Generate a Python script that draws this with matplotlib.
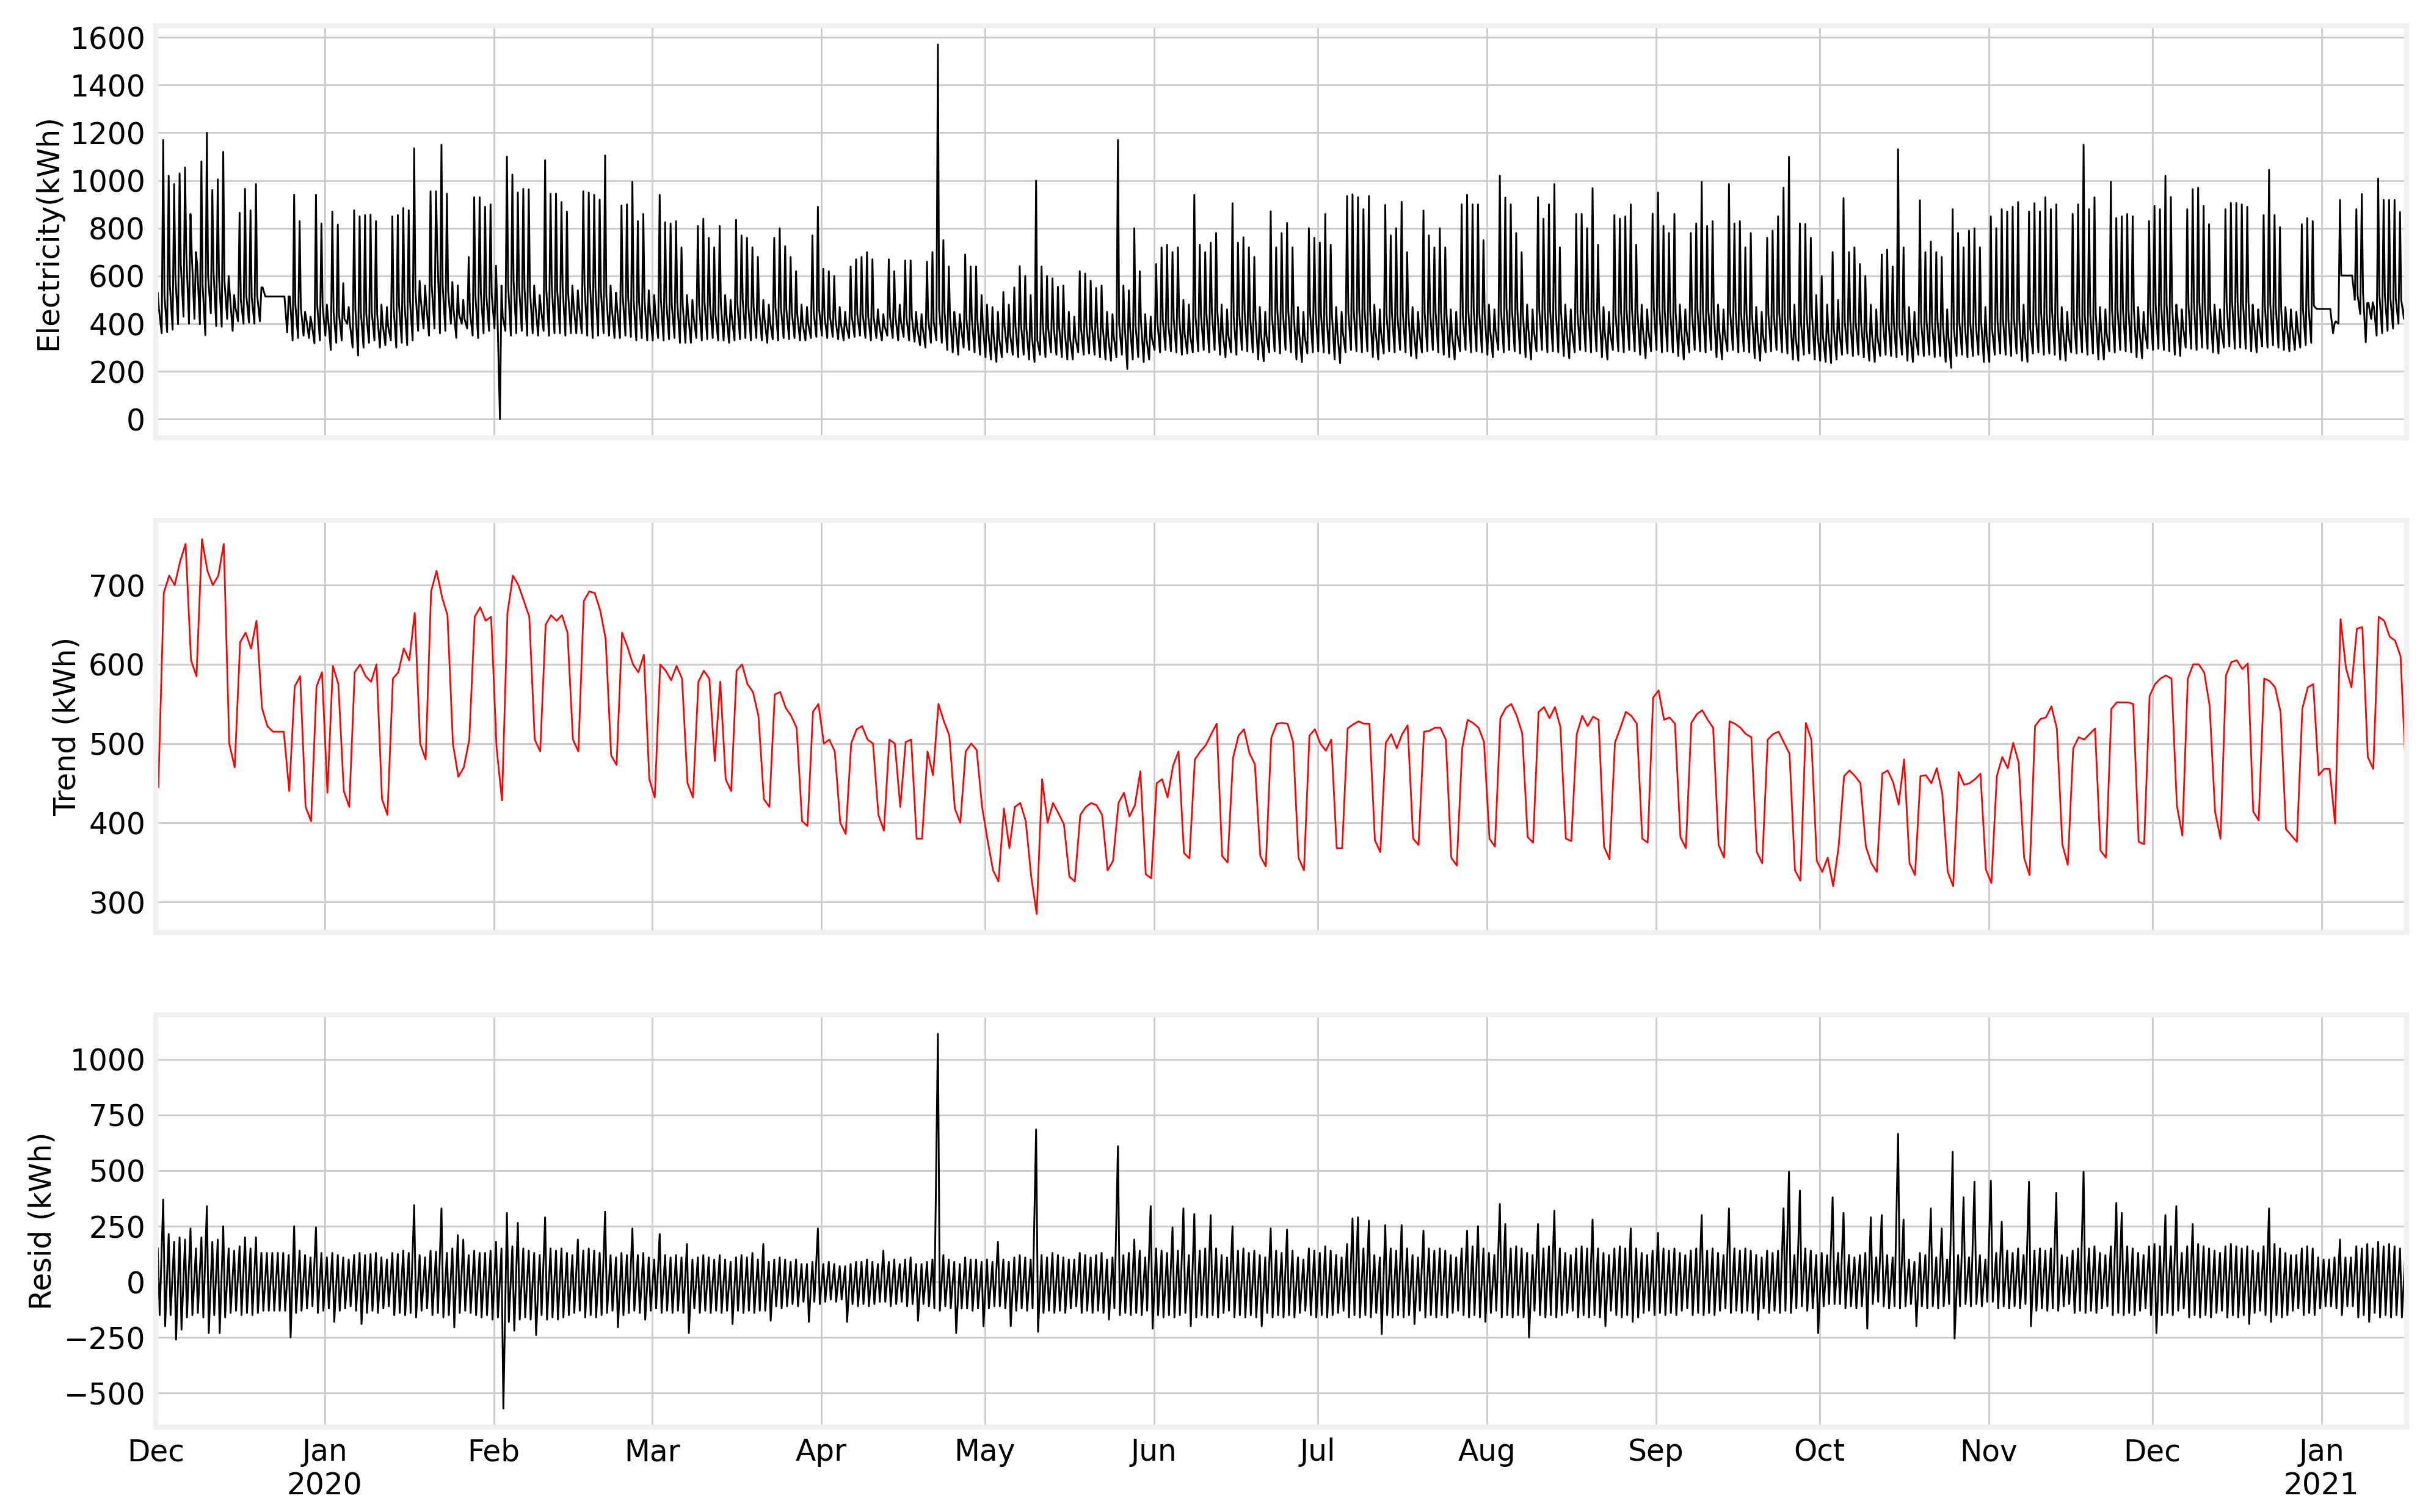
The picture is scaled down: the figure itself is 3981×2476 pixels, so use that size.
import numpy as np
import matplotlib
matplotlib.use("Agg")
import matplotlib.pyplot as plt
import matplotlib.dates as mdates
from matplotlib.ticker import MultipleLocator, FuncFormatter

# one value per day, 2019-12-01 (Sun) .. 2021-01-16 (Sat); rows are Mon..Sun weeks
trend_kwh = [445,
    690, 712, 700, 730, 752, 605, 585,
    758, 718, 700, 712, 752, 500, 470,
    628, 640, 620, 655, 545, 522, 515,
    515, 515, 440, 572, 585, 420, 402,
    572, 590, 438, 598, 575, 440, 420,
    590, 600, 585, 578, 600, 430, 410,
    582, 590, 620, 605, 665, 500, 480,
    692, 718, 685, 662, 500, 458, 470,
    505, 660, 672, 655, 660, 495, 428,
    665, 712, 700, 680, 660, 505, 490,
    650, 662, 655, 662, 640, 505, 490,
    680, 692, 690, 668, 632, 485, 473,
    640, 622, 600, 590, 612, 455, 432,
    600, 592, 580, 598, 582, 450, 432,
    578, 592, 582, 478, 578, 455, 440,
    592, 600, 575, 565, 535, 430, 420,
    562, 565, 545, 535, 520, 402, 396,
    540, 550, 500, 505, 490, 400, 386,
    500, 518, 522, 505, 500, 410, 390,
    505, 500, 420, 502, 505, 380, 380,
    490, 460, 550, 528, 510, 418, 400,
    490, 500, 492, 420, 378, 340, 326,
    418, 368, 420, 425, 402, 332, 285,
    455, 400, 425, 412, 398, 332, 326,
    410, 420, 425, 422, 410, 340, 352,
    425, 438, 408, 422, 465, 335, 330,
    450, 455, 432, 472, 490, 362, 355,
    480, 490, 498, 512, 525, 358, 350,
    482, 510, 518, 488, 474, 358, 345,
    507, 525, 526, 525, 502, 356, 340,
    510, 518, 500, 491, 505, 368, 368,
    519, 524, 528, 525, 525, 378, 363,
    501, 512, 494, 512, 523, 380, 372,
    515, 516, 520, 520, 505, 356, 346,
    494, 530, 526, 520, 502, 380, 370,
    532, 545, 550, 535, 513, 382, 375,
    540, 546, 532, 546, 521, 380, 377,
    512, 535, 522, 534, 530, 370, 354,
    501, 520, 540, 535, 525, 380, 375,
    558, 567, 530, 533, 525, 382, 368,
    526, 537, 542, 530, 520, 372, 356,
    528, 525, 520, 512, 508, 363, 349,
    505, 512, 515, 501, 487, 340, 327,
    526, 505, 352, 338, 356, 320, 370,
    459, 466, 459, 450, 370, 349, 338,
    462, 466, 451, 423, 480, 349, 334,
    459, 460, 450, 469, 437, 338, 320,
    464, 448, 450, 455, 462, 341, 324,
    459, 483, 469, 501, 476, 356, 334,
    522, 531, 533, 547, 519, 373, 347,
    494, 508, 505, 512, 519, 365, 356,
    544, 552, 552, 552, 550, 376, 373,
    560, 575, 582, 586, 582, 422, 384,
    582, 600, 600, 590, 548, 414, 380,
    586, 603, 605, 594, 601, 414, 403,
    582, 579, 571, 540, 392, 384, 376,
    544, 571, 575, 460, 468, 468, 399,
    657, 595, 571, 645, 647, 483, 468,
    660, 655, 635, 630, 610, 460]

elec_peak = [530,
    1170, 1020, 985, 1030, 1055, 860, 700,
    1080, 1200, 960, 1005, 1120, 600, 520,
    865, 965, 875, 985, 552, 514, 514,
    514, 514, 514, 940, 830, 450, 430,
    940, 820, 480, 870, 815, 570, 470,
    875, 850, 855, 857, 830, 480, 470,
    850, 855, 885, 875, 1135, 580, 560,
    955, 955, 1150, 945, 575, 560, 500,
    680, 930, 930, 890, 900, 643, 560,
    1100, 1025, 950, 965, 963, 560, 520,
    1085, 945, 945, 910, 870, 560, 540,
    955, 950, 940, 920, 1105, 560, 530,
    895, 900, 995, 830, 860, 540, 520,
    940, 825, 820, 830, 720, 520, 500,
    810, 840, 760, 720, 810, 520, 500,
    835, 770, 760, 720, 680, 500, 480,
    760, 800, 725, 680, 620, 480, 470,
    770, 890, 630, 620, 600, 470, 450,
    640, 670, 680, 700, 670, 460, 440,
    670, 620, 480, 665, 665, 450, 440,
    660, 700, 1570, 750, 640, 450, 440,
    690, 640, 640, 520, 480, 470, 450,
    533, 480, 552, 641, 600, 520, 1000,
    640, 600, 590, 555, 560, 450, 430,
    620, 610, 580, 550, 560, 450, 440,
    1170, 560, 540, 800, 620, 440, 430,
    650, 720, 730, 700, 720, 500, 480,
    940, 730, 700, 740, 780, 480, 460,
    905, 740, 762, 720, 680, 470, 450,
    871, 720, 780, 822, 720, 470, 450,
    800, 760, 740, 860, 730, 470, 450,
    935, 942, 930, 880, 935, 480, 460,
    898, 770, 800, 911, 700, 470, 450,
    874, 770, 720, 800, 720, 460, 450,
    900, 940, 900, 900, 750, 480, 460,
    1020, 929, 900, 780, 700, 480, 460,
    930, 840, 900, 985, 720, 480, 460,
    860, 860, 800, 968, 730, 470, 450,
    855, 840, 850, 900, 730, 480, 460,
    861, 950, 810, 780, 860, 480, 460,
    780, 820, 995, 810, 830, 480, 460,
    985, 820, 830, 720, 780, 470, 450,
    760, 790, 850, 970, 1099, 480, 820,
    818, 760, 520, 600, 480, 700, 500,
    926, 700, 720, 650, 600, 480, 460,
    690, 710, 640, 1131, 720, 470, 450,
    917, 700, 744, 700, 680, 460, 880,
    780, 720, 790, 800, 720, 470, 850,
    800, 880, 870, 890, 910, 480, 870,
    905, 870, 930, 880, 900, 470, 450,
    860, 900, 1150, 880, 930, 470, 460,
    995, 843, 850, 860, 850, 470, 450,
    830, 893, 880, 1020, 931, 480, 460,
    880, 964, 970, 893, 817, 480, 460,
    880, 906, 906, 900, 890, 480, 460,
    855, 1045, 855, 805, 470, 460, 450,
    817, 843, 830, 462, 462, 462, 400,
    919, 602, 602, 880, 944, 487, 490,
    1008, 919, 919, 919, 868, 520]

elec_low = [330,
    360, 365, 375, 398, 430, 400, 420,
    398, 352, 444, 390, 387, 420, 370,
    410, 400, 405, 400, 410, 514, 514,
    514, 514, 364, 330, 340, 350, 340,
    318, 330, 350, 290, 320, 330, 400,
    300, 267, 300, 320, 330, 300, 310,
    330, 300, 320, 310, 330, 370, 380,
    350, 380, 360, 370, 400, 341, 400,
    380, 350, 340, 360, 370, 380, 0,
    370, 350, 360, 370, 350, 360, 350,
    370, 350, 360, 360, 350, 360, 360,
    360, 350, 340, 350, 360, 350, 340,
    340, 350, 345, 330, 340, 330, 330,
    340, 330, 335, 340, 320, 320, 320,
    340, 330, 335, 340, 330, 330, 320,
    330, 335, 340, 330, 340, 330, 320,
    335, 330, 340, 335, 340, 330, 330,
    340, 345, 350, 340, 345, 335, 330,
    340, 345, 350, 340, 330, 340, 330,
    350, 340, 330, 345, 330, 325, 310,
    300, 320, 330, 320, 290, 280, 270,
    300, 290, 280, 270, 260, 250, 240,
    260, 280, 270, 260, 270, 250, 240,
    270, 260, 280, 270, 260, 250, 250,
    280, 270, 275, 270, 260, 250, 245,
    260, 270, 210, 250, 260, 240, 250,
    290, 280, 290, 285, 280, 270, 275,
    280, 285, 290, 280, 290, 270, 260,
    280, 270, 290, 285, 280, 250, 243,
    280, 285, 275, 290, 280, 250, 240,
    275, 280, 285, 280, 275, 250, 235,
    280, 290, 285, 280, 285, 260, 250,
    275, 285, 280, 290, 280, 265, 255,
    280, 285, 290, 280, 270, 260, 250,
    285, 290, 280, 285, 280, 270, 260,
    290, 280, 290, 285, 275, 260, 250,
    285, 290, 280, 285, 280, 265, 255,
    280, 290, 285, 280, 285, 260, 250,
    290, 285, 280, 290, 285, 270, 255,
    285, 290, 280, 285, 280, 265, 250,
    280, 290, 285, 280, 290, 260, 250,
    285, 290, 280, 285, 280, 255, 245,
    280, 285, 290, 280, 275, 250, 245,
    270, 275, 250, 245, 240, 235, 250,
    270, 275, 265, 270, 260, 245, 240,
    265, 270, 265, 260, 270, 245, 240,
    270, 265, 270, 260, 265, 240, 215,
    265, 270, 260, 265, 270, 240, 240,
    270, 275, 270, 265, 275, 245, 240,
    275, 280, 270, 275, 270, 250, 245,
    280, 275, 280, 270, 275, 250, 250,
    285, 280, 290, 285, 280, 260, 255,
    297, 290, 295, 290, 285, 270, 265,
    300, 295, 290, 300, 295, 280, 275,
    300, 305, 295, 300, 295, 285, 280,
    305, 300, 310, 300, 290, 285, 290,
    300, 310, 320, 462, 462, 462, 360,
    400, 602, 602, 500, 440, 322, 420,
    350, 360, 370, 380, 400, 420]

elec_base = [460,
    520, 560, 600, 650, 700, 700, 650,
    560, 600, 620, 600, 580, 520, 470,
    500, 520, 510, 520, 552, 514, 514,
    514, 514, 514, 480, 470, 420, 400,
    480, 470, 420, 450, 440, 420, 400,
    460, 450, 440, 450, 440, 400, 390,
    470, 480, 490, 500, 540, 500, 480,
    560, 720, 560, 540, 460, 440, 420,
    450, 520, 530, 520, 520, 480, 430,
    560, 580, 560, 550, 540, 480, 470,
    540, 560, 540, 550, 530, 480, 470,
    560, 570, 550, 540, 520, 470, 460,
    520, 510, 500, 490, 500, 450, 440,
    500, 490, 480, 490, 480, 440, 430,
    480, 490, 480, 440, 480, 440, 430,
    490, 500, 480, 470, 460, 420, 410,
    470, 470, 460, 450, 440, 400, 400,
    450, 460, 430, 430, 420, 400, 390,
    430, 440, 440, 430, 430, 400, 390,
    430, 430, 410, 430, 430, 380, 380,
    420, 410, 460, 450, 430, 400, 390,
    420, 420, 420, 400, 370, 350, 340,
    390, 360, 390, 400, 380, 350, 330,
    400, 380, 390, 385, 375, 340, 340,
    385, 390, 395, 390, 385, 345, 350,
    400, 400, 385, 395, 410, 340, 340,
    410, 415, 400, 420, 430, 360, 355,
    430, 435, 440, 450, 455, 360, 355,
    430, 445, 450, 430, 420, 360, 350,
    440, 455, 455, 455, 440, 360, 350,
    445, 450, 440, 435, 440, 365, 365,
    450, 455, 455, 455, 455, 375, 365,
    440, 445, 435, 445, 450, 375, 370,
    445, 450, 450, 450, 440, 360, 355,
    435, 455, 455, 450, 440, 375, 370,
    455, 465, 465, 455, 445, 380, 375,
    460, 465, 455, 465, 450, 380, 375,
    445, 460, 450, 460, 455, 370, 360,
    440, 450, 460, 460, 455, 380, 375,
    470, 475, 455, 455, 450, 380, 370,
    450, 460, 460, 455, 450, 375, 360,
    450, 450, 445, 440, 440, 365, 355,
    440, 440, 445, 435, 425, 345, 400,
    450, 440, 360, 350, 360, 380, 370,
    410, 415, 410, 405, 370, 355, 345,
    410, 415, 405, 390, 420, 355, 345,
    410, 410, 405, 415, 395, 345, 380,
    410, 400, 405, 405, 410, 345, 380,
    410, 420, 415, 430, 415, 360, 380,
    440, 445, 445, 455, 440, 375, 355,
    425, 435, 435, 440, 445, 370, 360,
    455, 460, 460, 460, 460, 380, 375,
    465, 475, 480, 480, 480, 420, 390,
    480, 490, 490, 485, 460, 410, 385,
    485, 495, 495, 490, 495, 410, 400,
    480, 480, 475, 460, 400, 390, 385,
    460, 475, 475, 462, 462, 462, 410,
    602, 602, 602, 520, 530, 487, 470,
    520, 520, 510, 505, 500, 470]

resid_high = [150,
    370, 215, 180, 200, 190, 240, 150,
    200, 340, 180, 190, 250, 150, 140,
    160, 200, 150, 200, 130, 130, 130,
    130, 130, 120, 250, 140, 120, 110,
    245, 130, 110, 130, 120, 110, 100,
    120, 130, 120, 125, 130, 110, 100,
    130, 125, 140, 130, 345, 120, 110,
    140, 135, 330, 130, 150, 210, 190,
    120, 140, 130, 130, 140, 180, 150,
    310, 160, 265, 150, 140, 130, 120,
    290, 150, 140, 150, 130, 120, 190,
    140, 150, 140, 130, 315, 120, 110,
    130, 120, 240, 120, 130, 110, 100,
    215, 120, 110, 120, 110, 170, 100,
    110, 120, 110, 100, 120, 100, 90,
    110, 120, 110, 130, 100, 170, 90,
    100, 110, 100, 90, 100, 80, 80,
    90, 240, 80, 90, 80, 70, 70,
    80, 90, 90, 100, 90, 80, 140,
    90, 100, 80, 100, 110, 80, 80,
    90, 100, 1115, 120, 100, 90, 80,
    110, 100, 100, 90, 100, 90, 180,
    100, 90, 110, 120, 110, 100, 685,
    120, 110, 130, 120, 110, 100, 100,
    130, 120, 110, 120, 130, 100, 110,
    610, 120, 130, 190, 140, 110, 340,
    150, 140, 130, 245, 140, 330, 120,
    305, 140, 150, 300, 150, 120, 110,
    250, 140, 150, 130, 140, 120, 110,
    240, 140, 130, 235, 140, 110, 100,
    150, 140, 130, 160, 140, 120, 110,
    170, 285, 290, 150, 275, 120, 110,
    255, 150, 140, 255, 150, 120, 110,
    230, 150, 140, 150, 140, 120, 110,
    150, 230, 160, 250, 150, 130, 120,
    350, 260, 150, 160, 150, 130, 120,
    260, 150, 160, 320, 150, 130, 120,
    150, 160, 150, 280, 150, 130, 120,
    150, 160, 150, 240, 150, 130, 120,
    140, 220, 150, 140, 150, 130, 120,
    140, 150, 300, 140, 150, 130, 120,
    330, 150, 140, 150, 140, 120, 110,
    140, 130, 140, 330, 495, 120, 410,
    150, 140, 120, 130, 120, 380, 130,
    310, 120, 110, 120, 130, 290, 110,
    300, 120, 110, 665, 280, 100, 90,
    130, 120, 330, 110, 240, 100, 585,
    120, 380, 110, 450, 120, 100, 455,
    130, 270, 140, 130, 150, 120, 450,
    140, 150, 140, 150, 400, 120, 110,
    140, 150, 495, 150, 160, 130, 120,
    160, 355, 310, 160, 150, 130, 120,
    160, 170, 160, 300, 160, 340, 130,
    160, 260, 170, 160, 150, 140, 130,
    160, 170, 160, 150, 160, 140, 130,
    160, 330, 170, 150, 130, 120, 120,
    150, 160, 150, 110, 100, 100, 110,
    190, 110, 110, 160, 150, 170, 150,
    180, 160, 170, 160, 150, 140]

resid_low = [-150,
    -200, -150, -260, -215, -160, -150, -140,
    -160, -230, -150, -230, -160, -140, -130,
    -150, -140, -150, -140, -130, -130, -130,
    -130, -130, -250, -140, -130, -120, -110,
    -140, -130, -120, -180, -130, -120, -110,
    -130, -190, -140, -130, -140, -120, -110,
    -150, -140, -150, -140, -160, -130, -120,
    -150, -140, -160, -150, -205, -140, -130,
    -140, -150, -160, -150, -170, -160, -570,
    -180, -220, -170, -160, -170, -240, -150,
    -170, -160, -170, -160, -150, -140, -130,
    -160, -150, -160, -150, -140, -130, -205,
    -150, -140, -130, -140, -170, -130, -120,
    -140, -130, -140, -130, -140, -230, -120,
    -140, -130, -140, -130, -140, -130, -190,
    -130, -140, -130, -140, -130, -130, -175,
    -110, -120, -110, -100, -110, -90, -180,
    -90, -100, -90, -80, -90, -80, -180,
    -100, -110, -100, -110, -100, -90, -90,
    -110, -100, -90, -110, -100, -175, -100,
    -110, -120, -130, -110, -120, -230, -120,
    -120, -130, -120, -200, -120, -110, -110,
    -120, -200, -130, -120, -130, -120, -225,
    -140, -130, -140, -130, -140, -120, -110,
    -140, -130, -140, -130, -140, -170, -120,
    -150, -140, -150, -140, -150, -130, -210,
    -150, -160, -150, -160, -150, -140, -200,
    -160, -150, -160, -150, -160, -140, -130,
    -160, -150, -160, -150, -160, -200, -140,
    -160, -150, -160, -150, -160, -140, -130,
    -150, -160, -150, -160, -150, -140, -130,
    -160, -150, -160, -150, -160, -140, -235,
    -150, -160, -150, -160, -150, -190, -130,
    -160, -150, -160, -150, -160, -140, -130,
    -150, -160, -150, -160, -180, -140, -130,
    -160, -150, -160, -150, -160, -250, -130,
    -150, -160, -150, -160, -150, -140, -130,
    -160, -150, -160, -150, -160, -200, -130,
    -150, -160, -150, -180, -160, -140, -130,
    -150, -140, -150, -140, -150, -130, -120,
    -150, -140, -150, -140, -150, -130, -120,
    -140, -130, -140, -130, -140, -170, -120,
    -140, -130, -140, -130, -140, -120, -110,
    -130, -120, -230, -110, -100, -100, -100,
    -120, -110, -120, -110, -210, -100, -90,
    -110, -120, -110, -120, -110, -100, -200,
    -110, -120, -110, -120, -110, -100, -255,
    -110, -100, -110, -100, -110, -90, -90,
    -120, -110, -120, -110, -120, -100, -200,
    -130, -120, -130, -120, -130, -110, -100,
    -140, -130, -140, -130, -140, -120, -110,
    -150, -140, -150, -140, -150, -130, -120,
    -150, -230, -150, -140, -150, -130, -120,
    -160, -150, -160, -150, -160, -140, -130,
    -160, -150, -160, -150, -190, -140, -130,
    -150, -180, -150, -160, -150, -130, -120,
    -150, -140, -150, -120, -110, -110, -120,
    -150, -110, -110, -160, -150, -180, -140,
    -160, -150, -160, -150, -160, -150]

n = len(trend_kwh)
for name, arr in [("elec_peak", elec_peak), ("elec_low", elec_low), ("elec_base", elec_base),
                  ("resid_high", resid_high), ("resid_low", resid_low)]:
    assert len(arr) == n, (name, len(arr), n)

t0 = np.datetime64("2019-12-01T00:00")
days = np.arange(n)


def at(offset):
    return t0 + np.round((days + offset) * 1440).astype(int).astype("timedelta64[m]")


elec_t = np.column_stack([at(0.12), at(0.40), at(0.62)]).ravel()
elec_v = np.column_stack([elec_low, elec_peak, elec_base]).ravel()
resid_t = np.column_stack([at(0.40), at(0.75)]).ravel()
resid_v = np.column_stack([resid_high, resid_low]).ravel()
trend_t = at(0.5)

fig, axs = plt.subplots(3, 1, figsize=(19.905, 12.38), dpi=200, sharex=True)
fig.patch.set_facecolor("white")
fig.subplots_adjust(left=0.064, right=0.990, top=0.983, bottom=0.056, hspace=0.2)

axs[0].plot(elec_t, elec_v, color="black", lw=1.05)
axs[1].plot(trend_t, trend_kwh, color="red", lw=1.0)
axs[2].plot(resid_t, resid_v, color="black", lw=1.05)

axs[0].set_ylabel("Electricity(kWh)", fontsize=17.5)
axs[1].set_ylabel("Trend (kWh)", fontsize=17.5)
axs[2].set_ylabel("Resid (kWh)", fontsize=17.5)

axs[0].yaxis.set_major_locator(MultipleLocator(200))
axs[1].yaxis.set_major_locator(MultipleLocator(100))
axs[2].yaxis.set_major_locator(MultipleLocator(250))


def month_label(x, pos):
    d = mdates.num2date(x)
    if d.month == 1:
        return "Jan\n%d" % d.year
    return d.strftime("%b")


for ax in axs:
    ax.set_facecolor("white")
    ax.grid(True, color="#cbcbcb", lw=1.0)
    ax.set_axisbelow(True)
    for s in ax.spines.values():
        s.set_color("#f0f0f0")
        s.set_linewidth(3.0)
    ax.tick_params(axis="both", length=0, labelsize=17.5, pad=6)
    ax.margins(y=0.05)

axs[2].xaxis.set_major_locator(mdates.MonthLocator())
axs[2].xaxis.set_major_formatter(FuncFormatter(month_label))
axs[2].set_xlim(t0, np.datetime64("2021-01-16T15:00"))
for lab in axs[2].get_xticklabels():
    lab.set_ha("center")

fig.savefig("out.png", dpi=200, facecolor="white")
